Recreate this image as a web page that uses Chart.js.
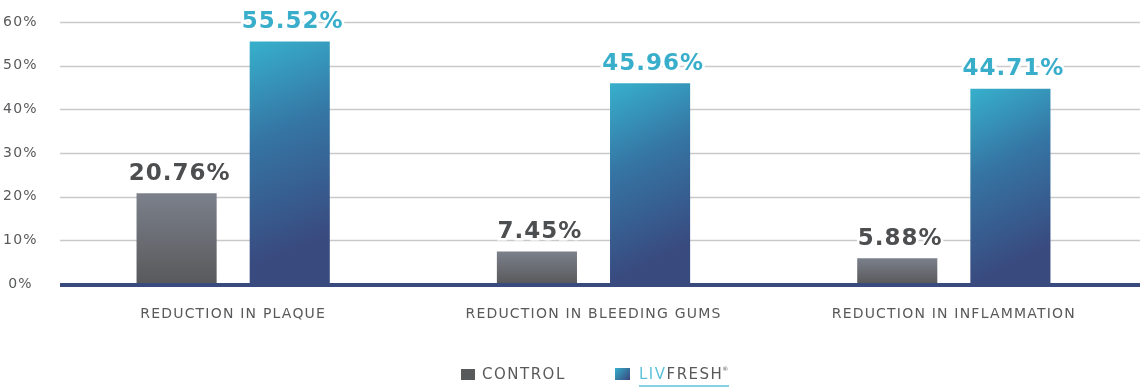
<!DOCTYPE html>
<html>
<head>
<meta charset="utf-8">
<script src="https://cdn.jsdelivr.net/npm/chart.js@4"></script>
<style>
  html, body { margin: 0; padding: 0; background: #fff; }
</style>
</head>
<body>
<canvas id="myChart" width="1140" height="387"></canvas>
<script>
const categories = ["REDUCTION IN PLAQUE", "REDUCTION IN BLEEDING GUMS", "REDUCTION IN INFLAMMATION"];
const controlValues = [20.76, 7.45, 5.88];
const livfreshValues = [55.52, 45.96, 44.71];
const yTicks = [0, 10, 20, 30, 40, 50, 60];

const GREY_TEXT = "#58595b";
const NAVY = "#394a7f";

const barGradients = {
  id: "barGradients",
  beforeDatasetsDraw(chart) {
    const ctx = chart.ctx;
    chart.data.datasets.forEach((ds, di) => {
      chart.getDatasetMeta(di).data.forEach(bar => {
        const left = bar.x - bar.width / 2, right = bar.x + bar.width / 2;
        const h = bar.base - bar.y;
        let g;
        if (di === 0) {
          g = ctx.createLinearGradient(0, bar.y, 0, bar.base);
          g.addColorStop(0, "#7b808b");
          g.addColorStop(1, "#58595b");
        } else {
          g = ctx.createLinearGradient(left, bar.y, right, bar.y + h * 0.8);
          g.addColorStop(0, "#37b0cc");
          g.addColorStop(0.45, "#3575a4");
          g.addColorStop(1, NAVY);
        }
        // options are shared between bars, so each bar gets its own copy
        bar.options = Object.assign({}, bar.options, { backgroundColor: g });
      });
    });
  }
};

// grid lines run from x=60 to the right edge
const gridLines = {
  id: "gridLines",
  beforeDatasetsDraw(chart) {
    const ctx = chart.ctx, y = chart.scales.y;
    ctx.save();
    ctx.strokeStyle = "#c9c9c9";
    ctx.lineWidth = 1.5;
    yTicks.forEach(v => {
      if (v === 0) return;
      const py = Math.round(y.getPixelForValue(v)) + 0.5;
      ctx.beginPath();
      ctx.moveTo(60, py);
      ctx.lineTo(1140, py);
      ctx.stroke();
    });
    ctx.restore();
  },
  afterDatasetsDraw(chart) {
    const ctx = chart.ctx, y = chart.scales.y;
    const py = y.getPixelForValue(0) + 1;
    ctx.save();
    ctx.strokeStyle = NAVY;
    ctx.lineWidth = 4;
    ctx.beginPath();
    ctx.moveTo(60, py);
    ctx.lineTo(1140, py);
    ctx.stroke();
    ctx.restore();
  }
};

const valueLabels = {
  id: "valueLabels",
  afterDatasetsDraw(chart) {
    const ctx = chart.ctx;
    ctx.save();
    ctx.font = "bold 23px 'DejaVu Sans'";
    ctx.letterSpacing = "1px";
    ctx.textAlign = "center";
    ctx.textBaseline = "bottom";
    chart.data.datasets.forEach((ds, di) => {
      chart.getDatasetMeta(di).data.forEach((bar, i) => {
        const txt = ds.data[i].toFixed(2) + "%";
        ctx.lineWidth = 5;
        ctx.strokeStyle = "#ffffff";
        ctx.strokeText(txt, bar.x + 3, bar.y - 8);
        ctx.fillStyle = di === 0 ? "#4d4e50" : "#38aecb";
        ctx.fillText(txt, bar.x + 3, bar.y - 8);
      });
    });
    ctx.restore();
  }
};

const legendDraw = {
  id: "legendDraw",
  afterDraw(chart) {
    const ctx = chart.ctx;
    ctx.save();
    ctx.letterSpacing = "1.5px";
    ctx.font = "15px 'DejaVu Sans'";
    ctx.textBaseline = "middle";
    ctx.textAlign = "left";
    const cy = 375;
    // control
    ctx.fillStyle = "#58595b";
    ctx.fillRect(461, 369, 14, 11);
    ctx.fillStyle = GREY_TEXT;
    ctx.fillText("CONTROL", 482, cy);
    // livfresh
    const g = ctx.createLinearGradient(615, 368, 629, 380);
    g.addColorStop(0, "#37b0cc");
    g.addColorStop(1, NAVY);
    ctx.fillStyle = g;
    ctx.fillRect(615, 368, 15, 12);
    ctx.fillStyle = "#5cc3da";
    ctx.fillText("LIV", 639, cy);
    const w1 = ctx.measureText("LIV").width;
    ctx.fillStyle = GREY_TEXT;
    ctx.fillText("FRESH", 639 + w1, cy);
    const w2 = ctx.measureText("FRESH").width;
    ctx.font = "6px 'DejaVu Sans'";
    ctx.letterSpacing = "0px";
    ctx.fillText("®", 639 + w1 + w2 - 1, cy - 6);
    ctx.strokeStyle = "#5cc3da";
    ctx.lineWidth = 1.5;
    ctx.beginPath();
    ctx.moveTo(639, 386);
    ctx.lineTo(729, 386);
    ctx.stroke();
    ctx.restore();
  }
};

const spacing = {
  id: "spacing",
  beforeDraw(chart) { chart.ctx.letterSpacing = "1.2px"; }
};

const ctx = document.getElementById("myChart").getContext("2d");
new Chart(ctx, {
  type: "bar",
  data: {
    labels: categories,
    datasets: [
      { label: "CONTROL", data: controlValues, backgroundColor: "#6a6d73", borderWidth: 0 },
      { label: "LIVFRESH", data: livfreshValues, backgroundColor: NAVY, borderWidth: 0 }
    ]
  },
  options: {
    responsive: false,
    animation: false,
    categoryPercentage: 0.628,
    barPercentage: 0.708,
    layout: { padding: { top: 22, right: 6, bottom: 60, left: 0 } },
    plugins: {
      legend: { display: false },
      tooltip: { enabled: false }
    },
    scales: {
      x: {
        grid: { display: false, drawTicks: false },
        border: { display: false },
        afterFit(scale) { scale.height = 43; scale.paddingLeft = 0; scale.paddingRight = 0; },
        ticks: {
          padding: 22,
          color: GREY_TEXT,
          font: { family: "'DejaVu Sans'", size: 14 }
        }
      },
      y: {
        min: 0,
        max: 60,
        grid: { display: false, drawTicks: false },
        border: { display: false },
        afterFit(scale) { scale.width = 53; scale.paddingTop = 0; scale.paddingBottom = 0; },
        afterBuildTicks(scale) { scale.ticks = yTicks.map(v => ({ value: v })); },
        ticks: {
          padding: 17,
          crossAlign: "center",
          color: GREY_TEXT,
          font: { family: "'DejaVu Sans'", size: 14 },
          callback: v => v + "%"
        }
      }
    }
  },
  plugins: [spacing, gridLines, barGradients, valueLabels, legendDraw]
});
</script>
</body>
</html>
